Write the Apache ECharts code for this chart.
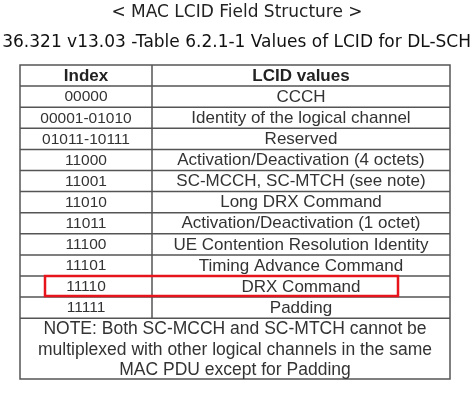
<!DOCTYPE html>
<html><head><meta charset="utf-8">
<script src="https://cdn.jsdelivr.net/npm/echarts@6/dist/echarts.min.js"></script>
<style>html,body{margin:0;padding:0;background:#fff}#c{width:474px;height:402px}</style>
</head><body><div id="c"></div>
<script>
const title = "< MAC LCID Field Structure >";
const subtitle = "36.321 v13.03 -Table 6.2.1-1 Values of LCID for DL-SCH";
const headers = ["Index", "LCID values"];
const indexCol = ["00000","00001-01010","01011-10111","11000","11001","11010","11011","11100","11101","11110","11111"];
const valueCol = ["CCCH","Identity of the logical channel","Reserved","Activation/Deactivation (4 octets)","SC-MCCH, SC-MTCH (see note)","Long DRX Command","Activation/Deactivation (1 octet)","UE Contention Resolution Identity","Timing Advance Command","DRX Command","Padding"];
const noteLines = ["NOTE: Both SC-MCCH and SC-MTCH cannot be","multiplexed with other logical channels in the same","MAC PDU except for Padding"];
const highlighted = "11110";

const L=20,R=450,D=152,T=65,RH=21.1,NB=379;
const els=[];
const font='"Liberation Sans", Arial, sans-serif';
const col='#333';
els.push({type:'text',x:237,y:13,style:{text:title,font:'17px "DejaVu Sans", Verdana, sans-serif',fill:'#222',align:'center',verticalAlign:'middle'}});
els.push({type:'text',x:471,y:43,style:{text:subtitle,font:'17px "DejaVu Sans", Verdana, sans-serif',fill:'#111',align:'right',verticalAlign:'middle'}});
const nRows=indexCol.length+1;
const noteTop=T+RH*nRows;
els.push({type:'rect',shape:{x:L,y:T,width:R-L,height:NB-T},style:{fill:'none',stroke:'#555',lineWidth:1.5}});
for(let i=1;i<=nRows;i++){const y=T+RH*i;els.push({type:'line',shape:{x1:L,y1:y,x2:R,y2:y},style:{stroke:'#555',lineWidth:1.5}});}
els.push({type:'line',shape:{x1:D,y1:T,x2:D,y2:noteTop},style:{stroke:'#555',lineWidth:1.5}});
const rowsA=[headers[0]].concat(indexCol), rowsB=[headers[1]].concat(valueCol);
rowsA.forEach((t,i)=>{const y=T+RH*i+RH/2+0.5;const bold=i===0;
 els.push({type:'text',x:(L+D)/2,y:y,style:{text:t,font:(bold?'bold 17px ':'15.5px ')+font,fill:bold?'#222':col,align:'center',verticalAlign:'middle'}});
 els.push({type:'text',x:(D+R)/2,y:y,style:{text:rowsB[i],font:(bold?'bold ':'')+'17px '+font,fill:bold?'#222':col,align:'center',verticalAlign:'middle'}});
});
noteLines.forEach((t,i)=>{els.push({type:'text',x:(L+R)/2,y:noteTop+11+i*20.5,style:{text:t,font:'17.5px '+font,fill:col,align:'center',verticalAlign:'middle'}});});
const hi=indexCol.indexOf(highlighted)+1;
els.push({type:'rect',shape:{x:45,y:T+RH*hi,width:353,height:RH-1},style:{fill:'none',stroke:'#e8141c',lineWidth:2.5}});
const chart=echarts.init(document.getElementById('c'));
chart.setOption({animation:false,graphic:{elements:els}});
</script></body></html>
